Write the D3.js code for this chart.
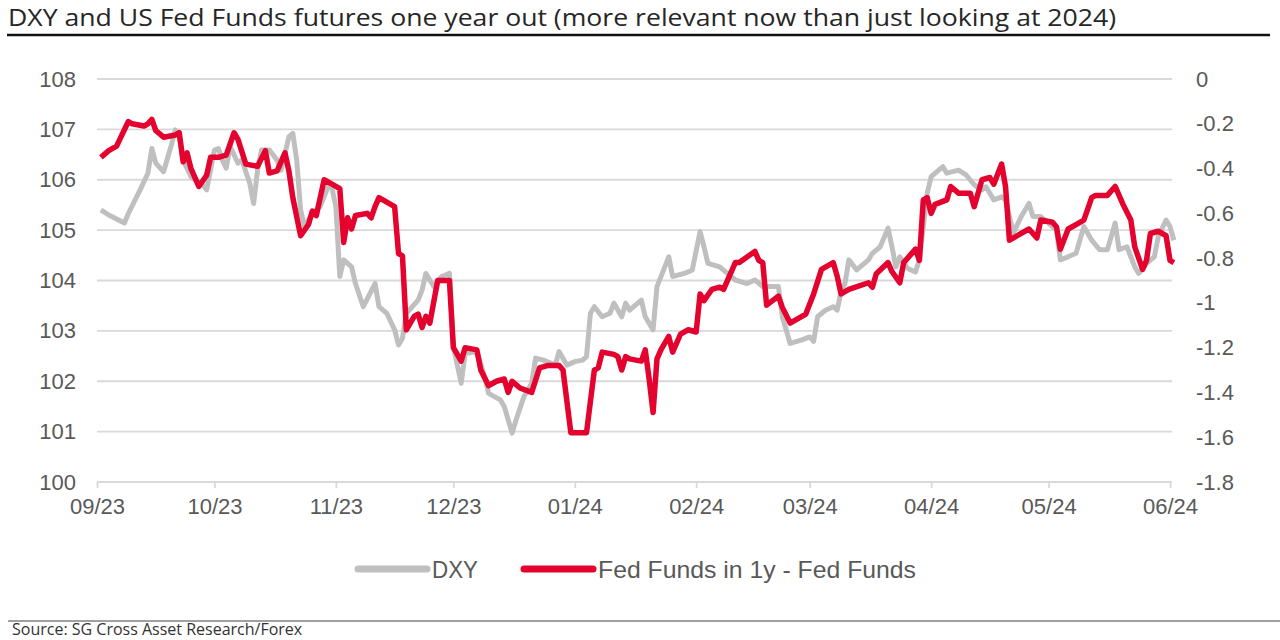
<!DOCTYPE html>
<html>
<head>
<meta charset="utf-8">
<script src="https://cdn.jsdelivr.net/npm/d3@7"></script>
<style>
  body { margin: 0; background: #fff; }
  svg { display: block; }
</style>
</head>
<body>
<div class="chart"></div>
<script>
const titleText = 'DXY and US Fed Funds futures one year out (more relevant now than just looking at 2024)';
const sourceText = 'Source: SG Cross Asset Research/Forex';
const legendLabels = ['DXY', 'Fed Funds in  1y - Fed Funds'];

const leftTicks = [100, 101, 102, 103, 104, 105, 106, 107, 108];
const rightTicks = [-1.8, -1.6, -1.4, -1.2, -1, -0.8, -0.6, -0.4, -0.2, 0];

// DXY index level (left axis)
const dxySeries = [
  ['2023-09-02', 105.40], ['2023-09-04', 105.30], ['2023-09-08', 105.14], ['2023-09-09', 105.33],
  ['2023-09-12', 105.80], ['2023-09-14', 106.13], ['2023-09-15', 106.62], ['2023-09-16', 106.33],
  ['2023-09-18', 106.16], ['2023-09-20', 106.69], ['2023-09-21', 106.99], ['2023-09-22', 106.85],
  ['2023-09-23', 106.39], ['2023-09-25', 106.06], ['2023-09-26', 106.00], ['2023-09-28', 105.90],
  ['2023-09-29', 105.80], ['2023-10-01', 106.59], ['2023-10-02', 106.62], ['2023-10-03', 106.39],
  ['2023-10-04', 106.23], ['2023-10-05', 106.66], ['2023-10-07', 106.33], ['2023-10-08', 106.39],
  ['2023-10-10', 105.93], ['2023-10-11', 105.53], ['2023-10-12', 106.19], ['2023-10-13', 106.59],
  ['2023-10-15', 106.59], ['2023-10-17', 106.39], ['2023-10-18', 106.19], ['2023-10-20', 106.85],
  ['2023-10-21', 106.92], ['2023-10-22', 106.39], ['2023-10-23', 105.40], ['2023-10-24', 105.07],
  ['2023-10-26', 105.33], ['2023-10-28', 105.47], ['2023-10-30', 105.86], ['2023-10-31', 105.83],
  ['2023-11-01', 105.47], ['2023-11-02', 104.08], ['2023-11-03', 104.41], ['2023-11-05', 104.27],
  ['2023-11-06', 103.94], ['2023-11-08', 103.48], ['2023-11-11', 103.94], ['2023-11-12', 103.48],
  ['2023-11-14', 103.35], ['2023-11-16', 103.02], ['2023-11-17', 102.72], ['2023-11-18', 102.85],
  ['2023-11-19', 103.35], ['2023-11-22', 103.61], ['2023-11-23', 103.81], ['2023-11-24', 104.14],
  ['2023-11-26', 103.88], ['2023-11-28', 104.08], ['2023-11-30', 104.14], ['2023-12-01', 102.69],
  ['2023-12-03', 101.96], ['2023-12-04', 102.55], ['2023-12-07', 102.59], ['2023-12-09', 102.09],
  ['2023-12-10', 101.76], ['2023-12-13', 101.63], ['2023-12-14', 101.50], ['2023-12-16', 100.97],
  ['2023-12-17', 101.23], ['2023-12-19', 101.69], ['2023-12-21', 101.96], ['2023-12-22', 102.46],
  ['2023-12-24', 102.42], ['2023-12-27', 102.32], ['2023-12-28', 102.59], ['2023-12-30', 102.32],
  ['2024-01-01', 102.39], ['2024-01-03', 102.42], ['2024-01-04', 102.49], ['2024-01-05', 103.35],
  ['2024-01-06', 103.48], ['2024-01-08', 103.28], ['2024-01-10', 103.35], ['2024-01-11', 103.55],
  ['2024-01-13', 103.28], ['2024-01-14', 103.55], ['2024-01-15', 103.41], ['2024-01-18', 103.61],
  ['2024-01-19', 103.28], ['2024-01-21', 103.02], ['2024-01-22', 103.88], ['2024-01-25', 104.47],
  ['2024-01-26', 104.08], ['2024-01-29', 104.14], ['2024-01-31', 104.21], ['2024-02-02', 104.97],
  ['2024-02-03', 104.67], ['2024-02-04', 104.34], ['2024-02-07', 104.27], ['2024-02-11', 104.01],
  ['2024-02-14', 103.94], ['2024-02-16', 104.01], ['2024-02-18', 103.88], ['2024-02-22', 103.88],
  ['2024-02-23', 103.28], ['2024-02-25', 102.75], ['2024-02-28', 102.82], ['2024-03-01', 102.88],
  ['2024-03-02', 102.79], ['2024-03-03', 103.28], ['2024-03-05', 103.41], ['2024-03-07', 103.48],
  ['2024-03-08', 103.41], ['2024-03-09', 103.78], ['2024-03-10', 103.94], ['2024-03-11', 104.41],
  ['2024-03-13', 104.21], ['2024-03-16', 104.41], ['2024-03-17', 104.54], ['2024-03-19', 104.67],
  ['2024-03-21', 105.04], ['2024-03-22', 104.67], ['2024-03-23', 104.27], ['2024-03-24', 104.47],
  ['2024-03-26', 104.24], ['2024-03-28', 104.17], ['2024-03-29', 104.41], ['2024-03-31', 105.73],
  ['2024-04-01', 106.06], ['2024-04-04', 106.26], ['2024-04-05', 106.13], ['2024-04-08', 106.19],
  ['2024-04-10', 106.09], ['2024-04-12', 105.90], ['2024-04-14', 105.80], ['2024-04-15', 105.86],
  ['2024-04-17', 105.60], ['2024-04-19', 105.66], ['2024-04-20', 105.60], ['2024-04-22', 104.94],
  ['2024-04-24', 105.27], ['2024-04-26', 105.53], ['2024-04-27', 105.27], ['2024-04-29', 105.27],
  ['2024-04-30', 105.20], ['2024-05-02', 105.07], ['2024-05-03', 105.00], ['2024-05-04', 104.41],
  ['2024-05-06', 104.47], ['2024-05-08', 104.54], ['2024-05-10', 105.07], ['2024-05-12', 104.80],
  ['2024-05-14', 104.61], ['2024-05-16', 104.61], ['2024-05-18', 105.14], ['2024-05-19', 104.61],
  ['2024-05-21', 104.67], ['2024-05-23', 104.27], ['2024-05-24', 104.14], ['2024-05-26', 104.34],
  ['2024-05-28', 104.47], ['2024-05-29', 104.87], ['2024-05-31', 105.20], ['2024-06-01', 105.07],
  ['2024-06-02', 104.80]
];

// Fed Funds in 1y minus Fed Funds, % (right axis)
const fedSeries = [
  ['2023-09-02', -0.35], ['2023-09-04', -0.32], ['2023-09-06', -0.30], ['2023-09-09', -0.19],
  ['2023-09-10', -0.20], ['2023-09-13', -0.21], ['2023-09-14', -0.20], ['2023-09-15', -0.18],
  ['2023-09-16', -0.23], ['2023-09-18', -0.26], ['2023-09-21', -0.25], ['2023-09-22', -0.24],
  ['2023-09-23', -0.37], ['2023-09-24', -0.33], ['2023-09-25', -0.40], ['2023-09-27', -0.48],
  ['2023-09-29', -0.43], ['2023-09-30', -0.35], ['2023-10-02', -0.35], ['2023-10-04', -0.34],
  ['2023-10-06', -0.24], ['2023-10-07', -0.27], ['2023-10-09', -0.38], ['2023-10-12', -0.39],
  ['2023-10-14', -0.32], ['2023-10-15', -0.42], ['2023-10-17', -0.41], ['2023-10-19', -0.33],
  ['2023-10-20', -0.41], ['2023-10-21', -0.53], ['2023-10-23', -0.70], ['2023-10-25', -0.65],
  ['2023-10-26', -0.59], ['2023-10-27', -0.61], ['2023-10-29', -0.45], ['2023-10-31', -0.47],
  ['2023-11-02', -0.49], ['2023-11-03', -0.73], ['2023-11-04', -0.62], ['2023-11-05', -0.67],
  ['2023-11-06', -0.61], ['2023-11-09', -0.60], ['2023-11-10', -0.62], ['2023-11-11', -0.57],
  ['2023-11-12', -0.53], ['2023-11-16', -0.57], ['2023-11-17', -0.78], ['2023-11-18', -0.79],
  ['2023-11-19', -1.12], ['2023-11-21', -1.06], ['2023-11-22', -1.05], ['2023-11-23', -1.11],
  ['2023-11-24', -1.06], ['2023-11-25', -1.09], ['2023-11-27', -0.90], ['2023-11-30', -0.90],
  ['2023-12-01', -1.20], ['2023-12-03', -1.26], ['2023-12-04', -1.20], ['2023-12-07', -1.21],
  ['2023-12-08', -1.30], ['2023-12-10', -1.37], ['2023-12-12', -1.35], ['2023-12-14', -1.34],
  ['2023-12-15', -1.40], ['2023-12-16', -1.35], ['2023-12-18', -1.38], ['2023-12-21', -1.40],
  ['2023-12-23', -1.29], ['2023-12-25', -1.28], ['2023-12-28', -1.28], ['2023-12-29', -1.30],
  ['2023-12-31', -1.58], ['2024-01-04', -1.58], ['2024-01-06', -1.30], ['2024-01-07', -1.29],
  ['2024-01-08', -1.22], ['2024-01-11', -1.23], ['2024-01-12', -1.24], ['2024-01-13', -1.30],
  ['2024-01-14', -1.24], ['2024-01-15', -1.25], ['2024-01-18', -1.26], ['2024-01-19', -1.21],
  ['2024-01-20', -1.34], ['2024-01-21', -1.49], ['2024-01-22', -1.25], ['2024-01-23', -1.21],
  ['2024-01-25', -1.15], ['2024-01-26', -1.22], ['2024-01-28', -1.14], ['2024-01-30', -1.12],
  ['2024-02-01', -1.13], ['2024-02-02', -0.96], ['2024-02-03', -0.99], ['2024-02-05', -0.94],
  ['2024-02-07', -0.93], ['2024-02-08', -0.94], ['2024-02-11', -0.82], ['2024-02-12', -0.82],
  ['2024-02-16', -0.77], ['2024-02-17', -0.81], ['2024-02-18', -0.82], ['2024-02-19', -1.01],
  ['2024-02-22', -0.97], ['2024-02-23', -1.02], ['2024-02-25', -1.09], ['2024-02-29', -1.05],
  ['2024-03-02', -0.96], ['2024-03-04', -0.85], ['2024-03-07', -0.82], ['2024-03-08', -0.88],
  ['2024-03-09', -0.96], ['2024-03-11', -0.94], ['2024-03-16', -0.91], ['2024-03-17', -0.93],
  ['2024-03-18', -0.87], ['2024-03-21', -0.82], ['2024-03-22', -0.86], ['2024-03-24', -0.91],
  ['2024-03-25', -0.82], ['2024-03-27', -0.78], ['2024-03-28', -0.76], ['2024-03-29', -0.81],
  ['2024-03-30', -0.54], ['2024-03-31', -0.53], ['2024-04-01', -0.60], ['2024-04-02', -0.56],
  ['2024-04-05', -0.54], ['2024-04-06', -0.48], ['2024-04-08', -0.51], ['2024-04-11', -0.51],
  ['2024-04-12', -0.57], ['2024-04-14', -0.45], ['2024-04-16', -0.44], ['2024-04-17', -0.47],
  ['2024-04-19', -0.38], ['2024-04-20', -0.48], ['2024-04-21', -0.72], ['2024-04-24', -0.69],
  ['2024-04-26', -0.67], ['2024-04-28', -0.71], ['2024-04-29', -0.63], ['2024-05-02', -0.64],
  ['2024-05-03', -0.66], ['2024-05-04', -0.76], ['2024-05-06', -0.67], ['2024-05-08', -0.65],
  ['2024-05-10', -0.63], ['2024-05-12', -0.53], ['2024-05-13', -0.52], ['2024-05-16', -0.52],
  ['2024-05-18', -0.48], ['2024-05-20', -0.56], ['2024-05-22', -0.63], ['2024-05-23', -0.75],
  ['2024-05-25', -0.85], ['2024-05-26', -0.81], ['2024-05-27', -0.69], ['2024-05-29', -0.68],
  ['2024-05-31', -0.70], ['2024-06-01', -0.81], ['2024-06-02', -0.82]
];

const colors = { dxy: '#bfbfbf', fed: '#e4032e', grid: '#d9d9d9', text: '#595959' };

function buildChart() {
  const width = 1280;
  const height = 640;
  const margin = { top: 79, right: 110, bottom: 158, left: 97 };
  const innerW = width - margin.left - margin.right;
  const innerH = height - margin.top - margin.bottom;
  const axisFont = '"Liberation Sans", Arial, sans-serif';

  const svg = d3.select('.chart')
    .append('svg')
    .attr('width', width)
    .attr('height', height);

  svg.append('rect').attr('width', width).attr('height', height).attr('fill', '#fff');

  // title + rule
  svg.append('text')
    .attr('x', 8)
    .attr('y', 26)
    .attr('font-family', '"Open Sans", sans-serif')
    .attr('font-size', 24)
    .attr('fill', '#262626')
    .attr('textLength', 1108)
    .attr('lengthAdjust', 'spacingAndGlyphs')
    .text(titleText);

  svg.append('line')
    .attr('x1', 7).attr('x2', 1270)
    .attr('y1', 35).attr('y2', 35)
    .attr('stroke', '#111').attr('stroke-width', 2.5);

  const parseDate = d3.timeParse('%Y-%m-%d');
  const dxy = dxySeries.map(([d, v]) => ({ date: parseDate(d), value: v }));
  const fed = fedSeries.map(([d, v]) => ({ date: parseDate(d), value: v }));

  const x = d3.scaleTime()
    .domain([new Date(2023, 8, 1), new Date(2024, 5, 1)])
    .range([0, innerW]);

  const yLeft = d3.scaleLinear()
    .domain([100, 108])
    .range([innerH, 0]);

  const yRight = d3.scaleLinear()
    .domain([-1.8, 0])
    .range([innerH, 0]);

  const g = svg.append('g')
    .attr('transform', `translate(${margin.left},${margin.top})`);

  // gridlines
  g.append('g')
    .selectAll('line')
    .data(leftTicks)
    .join('line')
    .attr('x1', 0)
    .attr('x2', innerW + 2)
    .attr('y1', d => yLeft(d))
    .attr('y2', d => yLeft(d))
    .attr('stroke', colors.grid)
    .attr('stroke-width', 1.8);

  // bottom axis
  const xAxis = g.append('g')
    .attr('transform', `translate(0,${innerH})`)
    .call(
      d3.axisBottom(x)
        .ticks(d3.timeMonth.every(1))
        .tickFormat(d3.timeFormat('%m/%y'))
        .tickSize(6)
        .tickPadding(10)
    );
  xAxis.select('.domain').remove();
  xAxis.selectAll('.tick line').attr('stroke', colors.grid).attr('stroke-width', 1.8);
  xAxis.selectAll('.tick text')
    .attr('font-family', axisFont)
    .attr('font-size', 22)
    .attr('fill', colors.text);

  // left axis
  const yAxisL = g.append('g')
    .call(d3.axisLeft(yLeft).tickValues(leftTicks).tickSize(0).tickPadding(21).tickFormat(d3.format('d')));
  yAxisL.select('.domain').remove();
  yAxisL.selectAll('.tick text')
    .attr('font-family', axisFont)
    .attr('font-size', 22)
    .attr('fill', colors.text);

  // right axis
  const yAxisR = g.append('g')
    .attr('transform', `translate(${innerW},0)`)
    .call(d3.axisRight(yRight).tickValues(rightTicks).tickSize(0).tickPadding(26)
      .tickFormat(d => String(+d.toFixed(1))));
  yAxisR.select('.domain').remove();
  yAxisR.selectAll('.tick text')
    .attr('font-family', axisFont)
    .attr('font-size', 22)
    .attr('fill', colors.text);

  const lineLeft = d3.line()
    .x(d => x(d.date))
    .y(d => yLeft(d.value));

  const lineRight = d3.line()
    .x(d => x(d.date))
    .y(d => yRight(d.value));

  g.append('path')
    .attr('fill', 'none')
    .attr('stroke', colors.dxy)
    .attr('stroke-width', 5)
    .attr('stroke-linejoin', 'round')
    .attr('d', lineLeft(dxy));

  g.append('path')
    .attr('fill', 'none')
    .attr('stroke', colors.fed)
    .attr('stroke-width', 5.5)
    .attr('stroke-linejoin', 'round')
    .attr('d', lineRight(fed));

  // legend
  const legend = svg.append('g').attr('transform', 'translate(0,569)');
  const items = [
    { label: legendLabels[0], color: colors.dxy, x: 358, w: 46 },
    { label: legendLabels[1], color: colors.fed, x: 524, w: 318 }
  ];
  items.forEach(it => {
    legend.append('line')
      .attr('x1', it.x).attr('x2', it.x + 69)
      .attr('y1', 0).attr('y2', 0)
      .attr('stroke', it.color)
      .attr('stroke-width', 7)
      .attr('stroke-linecap', 'round');
    legend.append('text')
      .attr('x', it.x + 74)
      .attr('y', 9)
      .attr('font-family', axisFont)
      .attr('font-size', 24)
      .attr('fill', colors.text)
      .attr('textLength', it.w)
      .attr('lengthAdjust', 'spacingAndGlyphs')
      .text(it.label);
  });

  // source footer
  svg.append('line')
    .attr('x1', 8).attr('x2', 1280)
    .attr('y1', 621).attr('y2', 621)
    .attr('stroke', '#808080').attr('stroke-width', 1.5);

  svg.append('text')
    .attr('x', 12)
    .attr('y', 635)
    .attr('font-family', '"Open Sans", sans-serif')
    .attr('font-size', 16)
    .attr('fill', '#333')
    .text(sourceText);
}

buildChart();
</script>
</body>
</html>
